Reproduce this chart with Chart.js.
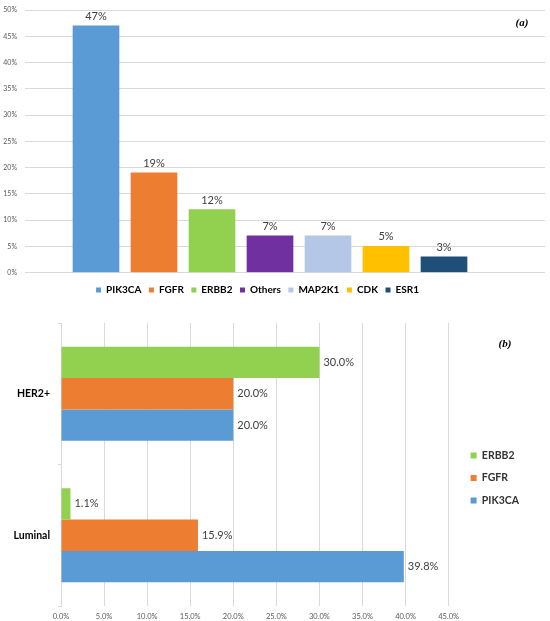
<!DOCTYPE html>
<html>
<head>
<meta charset="utf-8">
<script src="https://cdn.jsdelivr.net/npm/chart.js@4.4.0/dist/chart.umd.min.js"></script>
<style>
  html, body { margin: 0; padding: 0; background: #fff; overflow: hidden; }
  /* panel (a) is shifted left so its centred legend sits where Excel put it */
  #wrapA { position: absolute; left: -30px; top: 0; width: 580px; height: 305px; }
  #wrapB { position: absolute; left: 0; top: 305px; width: 550px; height: 322px; }
</style>
</head>
<body>
<div id="wrapA"><canvas id="chartA"></canvas></div>
<div id="wrapB"><canvas id="chartB"></canvas></div>
<script>
// (a) share of each altered gene
const genesA = ['PIK3CA', 'FGFR', 'ERBB2', 'Others', 'MAP2K1', 'CDK', 'ESR1'];
const valuesA = [47, 19, 12, 7, 7, 5, 3];
const colorsA = ['#5B9BD5', '#ED7D31', '#92D050', '#7030A0', '#B4C7E7', '#FFC000', '#1F4E79'];
const ticksA = [0, 5, 10, 15, 20, 25, 30, 35, 40, 45, 50];

// (b) split by subtype
const subtypesB = ['HER2+', 'Luminal'];
const genesB = ['ERBB2', 'FGFR', 'PIK3CA'];
const erbb2B = [30.0, 1.1];
const fgfrB = [20.0, 15.9];
const pik3caB = [20.0, 39.8];
const colorsB = ['#92D050', '#ED7D31', '#5B9BD5'];
const ticksB = [0, 5, 10, 15, 20, 25, 30, 35, 40, 45];

const FONT = 'Lato, "Open Sans", sans-serif';
const GRID = '#D9D9D9';

// draws the value next to each bar (no datalabels plugin here)
function valueLabels(format) {
    return {
        id: 'valueLabels',
        afterDatasetsDraw(chart) {
            const ctx = chart.ctx;
            const horizontal = chart.options.indexAxis === 'y';
            ctx.save();
            ctx.font = '11px ' + FONT;
            ctx.fillStyle = '#404040';
            chart.data.datasets.forEach((ds, i) => {
                chart.getDatasetMeta(i).data.forEach((bar, j) => {
                    const raw = ds.data[j];
                    const text = format(typeof raw === 'object' ? raw.y : raw);
                    if (horizontal) {
                        ctx.textAlign = 'left';
                        ctx.textBaseline = 'middle';
                        ctx.fillText(text, bar.x + 4, bar.y);
                    } else {
                        ctx.textAlign = 'center';
                        ctx.textBaseline = 'alphabetic';
                        ctx.fillText(text, bar.x, bar.y - 6);
                    }
                });
            });
            ctx.restore();
        }
    };
}

// the little "(a)" / "(b)" tag
function panelTag(text, place) {
    return {
        id: 'panelTag',
        afterDraw(chart) {
            const ctx = chart.ctx;
            const p = place(chart);
            ctx.save();
            ctx.font = 'italic bold 11px "Liberation Serif", "DejaVu Serif", serif';
            ctx.fillStyle = '#000';
            ctx.textAlign = 'center';
            ctx.textBaseline = 'middle';
            ctx.fillText(text, p.x, p.y);
            ctx.restore();
        }
    };
}

new Chart(document.getElementById('chartA'), {
    type: 'bar',
    data: {
        labels: genesA,
        datasets: [{
            data: valuesA.map((v, i) => ({ x: i, y: v })),
            backgroundColor: colorsA,
            barThickness: 46
        }]
    },
    options: {
        responsive: true,
        maintainAspectRatio: false,
        animation: false,
        layout: { padding: { top: 0, right: 5, bottom: 0 } },
        scales: {
            x: {
                type: 'linear',
                offset: false,
                min: -1.224,
                max: 7.741,
                ticks: { display: false },
                grid: { display: false },
                border: { display: false },
                afterFit: s => { s.height = 5; }
            },
            y: {
                min: 0,
                max: 50,
                afterBuildTicks: s => { s.ticks = ticksA.map(v => ({ value: v })); },
                afterFit: s => { s.width = 55; },
                ticks: {
                    callback: v => v + '%',
                    color: '#595959',
                    padding: 8,
                    font: { family: FONT, size: 7, lineHeight: 0.6 }
                },
                grid: { color: GRID, drawTicks: false },
                border: { display: false }
            }
        },
        plugins: {
            legend: {
                position: 'bottom',
                labels: {
                    boxWidth: 5,
                    boxHeight: 5,
                    padding: 7.5,
                    color: '#333',
                    font: { family: FONT, size: 10, weight: 'bold' },
                    generateLabels: () => genesA.map((g, i) => ({
                        text: g, fillStyle: colorsA[i], strokeStyle: colorsA[i],
                        lineWidth: 0, hidden: false, index: i
                    }))
                }
            },
            tooltip: { enabled: false }
        }
    },
    plugins: [
        valueLabels(v => v + '%'),
        panelTag('(a)', c => ({ x: c.chartArea.right - 23, y: c.chartArea.top + 13 }))
    ]
});

new Chart(document.getElementById('chartB'), {
    type: 'bar',
    data: {
        labels: subtypesB,
        datasets: [
            { label: genesB[0], data: erbb2B, backgroundColor: colorsB[0] },
            { label: genesB[1], data: fgfrB, backgroundColor: colorsB[1] },
            { label: genesB[2], data: pik3caB, backgroundColor: colorsB[2] }
        ]
    },
    options: {
        indexAxis: 'y',
        responsive: true,
        maintainAspectRatio: false,
        animation: false,
        datasets: { bar: { barPercentage: 1, categoryPercentage: 0.664 } },
        layout: { padding: { top: 18, right: 21, bottom: 0 } },
        scales: {
            x: {
                min: 0,
                max: 45,
                afterBuildTicks: s => { s.ticks = ticksB.map(v => ({ value: v })); },
                ticks: {
                    callback: v => v.toFixed(1) + '%',
                    color: '#595959',
                    padding: 6,
                    font: { family: FONT, size: 7.5 }
                },
                grid: { color: GRID, drawTicks: false },
                border: { display: false }
            },
            y: {
                afterFit: s => { s.width = 61; },
                ticks: {
                    color: '#000',
                    padding: 8,
                    font: { family: FONT, size: 10.5, weight: 'bold' }
                },
                grid: { drawOnChartArea: false, tickLength: 3, color: GRID },
                border: { color: GRID }
            },
            // spacer between plot and legend
            gap: {
                position: 'right',
                display: true,
                grid: { display: false },
                ticks: { display: false },
                border: { display: false },
                afterFit: s => { s.width = 10; }
            }
        },
        plugins: {
            legend: {
                position: 'right',
                // empty title only nudges the entries down a little
                title: { display: true, text: '', padding: 2.4, font: { size: 1 } },
                labels: {
                    boxWidth: 6,
                    boxHeight: 6,
                    padding: 12,
                    color: '#333',
                    font: { family: FONT, size: 10.5, weight: 'bold' }
                }
            },
            tooltip: { enabled: false }
        }
    },
    plugins: [
        valueLabels(v => v.toFixed(1) + '%'),
        panelTag('(b)', c => ({ x: c.width - 45, y: c.chartArea.top + 21 }))
    ]
});
</script>
</body>
</html>
